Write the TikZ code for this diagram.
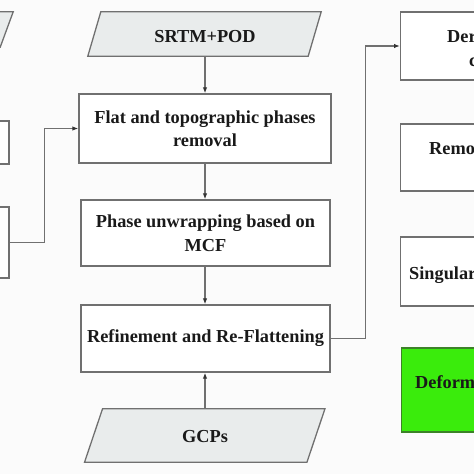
\documentclass[tikz,border=0pt]{standalone}
\usepackage{fontspec}
\setmainfont{Liberation Serif}
\usetikzlibrary{arrows.meta}
\definecolor{linegray}{RGB}{112,112,112}
\definecolor{paragray}{RGB}{233,236,236}
\definecolor{defgreen}{RGB}{58,236,12}
\definecolor{greenborder}{RGB}{60,130,40}
\definecolor{bggray}{RGB}{251,251,251}
\tikzset{
  procbox/.style={draw=linegray, line width=1.3pt, fill=white, rectangle, inner sep=0pt, align=center,
    font=\fontsize{18.3}{23.5}\selectfont\bfseries, text=black!90},
  hidden/.style={rectangle, inner sep=0pt, align=center, font=\fontsize{18.3}{23.5}\selectfont\bfseries, text=black!90},
  txt/.style={inner sep=0pt, anchor=west, font=\fontsize{18.3}{23.5}\selectfont\bfseries, text=black!90},
  para/.style={draw=linegray, line width=1.3pt, fill=paragray},
  conn/.style={draw=linegray, line width=1.3pt},
  arr/.style={conn, -{Latex[length=6pt,width=4.5pt,color=black!80]}},
}
\begin{document}
\begin{tikzpicture}[x=1pt,y=-1pt]
\useasboundingbox (0,0) rectangle (474,474);
\clip (0,0) rectangle (474,474);
\fill[bggray] (0,0) rectangle (474,474);

% left column (mostly outside)
\node[hidden, minimum width=220pt, minimum height=35pt] (lpar) at (-103.5,29.5) {};
\draw[para] ([xshift=6.5pt]lpar.north west) -- ([xshift=6.5pt]lpar.north east) -- ([xshift=-6.5pt]lpar.south east) -- ([xshift=-6.5pt]lpar.south west) -- cycle;
\node[procbox, minimum width=200pt, minimum height=43pt] (l1) at (-91,142.5) {};
\node[procbox, minimum width=200pt, minimum height=71pt] (l2) at (-91,242.5) {};

% centre column
\node[hidden, minimum width=220pt, minimum height=44pt] (srtm) at (204.5,34) {};
\draw[para] ([xshift=6.5pt]srtm.north west) -- ([xshift=6.5pt]srtm.north east) -- ([xshift=-6.5pt]srtm.south east) -- ([xshift=-6.5pt]srtm.south west) -- cycle;
\node[hidden] (srtmtxt) at (205,37) {SRTM+POD};

\node[procbox, minimum width=252pt, minimum height=69pt] (flat) at (205,128.5) {Flat and topographic phases\\removal};
\node[procbox, minimum width=249pt, minimum height=66pt] (phase) at (205.5,233) {Phase unwrapping based on\\MCF};
\node[procbox, minimum width=249pt, minimum height=67pt] (refine) at (205.5,338.5) {Refinement and Re-Flattening};

\node[hidden, minimum width=222pt, minimum height=53pt] (gcps) at (204.75,435.5) {};
\draw[para] ([xshift=9pt]gcps.north west) -- ([xshift=9pt]gcps.north east) -- ([xshift=-9pt]gcps.south east) -- ([xshift=-9pt]gcps.south west) -- cycle;
\node[hidden] (gcpstxt) at (205,437) {GCPs};

% right column
\node[procbox, minimum width=240pt, minimum height=68pt, anchor=west] (r1) at (400,46) {};
\node[procbox, minimum width=240pt, minimum height=67pt, anchor=west] (r2) at (400,157.5) {};
\node[procbox, minimum width=240pt, minimum height=69pt, anchor=west] (r3) at (400,271.5) {};
\node[procbox, fill=defgreen, draw=greenborder, minimum width=240pt, minimum height=84pt, anchor=west] (r4) at (401,390) {};
\node[txt] (r1a) at (447,37) {Der};
\node[txt] (r1b) at (469,62) {c};
\node[txt] (r2a) at (429,149) {Remo};
\node[txt] (r3a) at (409,275) {Singular};
\node[txt] (r4a) at (415,382) {Deform};

% connectors
\draw[arr] (srtm.south -| flat.north) -- (flat.north);
\draw[arr] (flat.south) -- (phase.north -| flat.south);
\draw[arr] (phase.south -| flat.south) -- (refine.north -| flat.south);
\draw[arr] (gcps.north -| flat.south) -- (refine.south -| flat.south);
\draw[arr] (l2.east) -- ++(35,0) |- (flat.west);
\draw[arr] (refine.east) -- ++(34.5,0) |- (r1.west);
\end{tikzpicture}
\end{document}
